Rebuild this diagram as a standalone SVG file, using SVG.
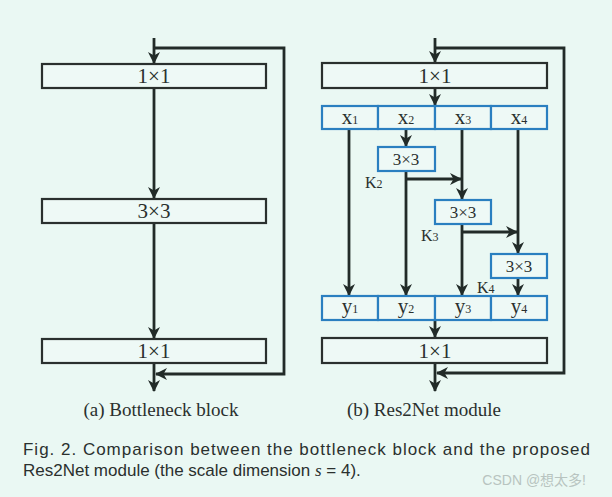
<svg xmlns="http://www.w3.org/2000/svg" width="612" height="497" viewBox="0 0 612 497">
<defs>
<marker id="a" viewBox="0 0 12 12" refX="11" refY="6" markerWidth="12" markerHeight="12" orient="auto" markerUnits="userSpaceOnUse"><path d="M0,0 L12,6 L0,12 L3.5,6 z" fill="#222b28"/></marker>
</defs>
<style>
.bk{fill:#eef9f6;stroke:#2a302e;stroke-width:2.2}
.bl{fill:#eef9f6;stroke:#2a7fc0;stroke-width:2.2}
.t{font-family:"Liberation Serif",serif;font-size:21px;fill:#2a302e;text-anchor:middle}
.s{font-family:"Liberation Serif",serif;font-size:17px;fill:#2a302e;text-anchor:middle}
.sub{font-size:12px}
.k{font-family:"Liberation Serif",serif;font-size:16px;fill:#2a302e}
.c{fill:none;stroke:#222b28;stroke-width:2.8}
.cap{font-family:"Liberation Serif",serif;font-size:19px;fill:#2a302e;text-anchor:middle}
.fig{font-family:"Liberation Sans",sans-serif;font-size:17px;fill:#2a302e}
</style>
<rect width="612" height="497" fill="#eaf8f3"/>
<g id="connectors">
<line class="c" x1="154" y1="38" x2="154" y2="63" marker-end="url(#a)"/>
<polyline class="c" stroke-width="2.2" points="154,48 284,48 284,374 156,374" marker-end="url(#a)"/>
<line class="c" x1="154" y1="88" x2="154" y2="198" marker-end="url(#a)"/>
<line class="c" x1="154" y1="223" x2="154" y2="338" marker-end="url(#a)"/>
<line class="c" x1="154" y1="363" x2="154" y2="391" marker-end="url(#a)"/>
<line class="c" x1="435" y1="38" x2="435" y2="62" marker-end="url(#a)"/>
<polyline class="c" stroke-width="2.2" points="435,48 564,48 564,373 437,373" marker-end="url(#a)"/>
<line class="c" x1="435" y1="88" x2="435" y2="105" marker-end="url(#a)"/>
<line class="c" x1="349" y1="130" x2="349" y2="295" marker-end="url(#a)"/>
<line class="c" x1="406" y1="130" x2="406" y2="146" marker-end="url(#a)"/>
<line class="c" x1="406" y1="171" x2="406" y2="295" marker-end="url(#a)"/>
<line class="c" x1="406" y1="179" x2="461" y2="179" marker-end="url(#a)"/>
<line class="c" x1="462" y1="130" x2="462" y2="199" marker-end="url(#a)"/>
<line class="c" x1="462" y1="224" x2="462" y2="295" marker-end="url(#a)"/>
<line class="c" x1="462" y1="232" x2="517" y2="232" marker-end="url(#a)"/>
<line class="c" x1="518" y1="130" x2="518" y2="253" marker-end="url(#a)"/>
<line class="c" x1="518" y1="278" x2="518" y2="295" marker-end="url(#a)"/>
<line class="c" x1="435" y1="320" x2="435" y2="337" marker-end="url(#a)"/>
<line class="c" x1="435" y1="363" x2="435" y2="391" marker-end="url(#a)"/>
</g>
<g id="a-conv1"><rect class="bk" x="42" y="64" width="224" height="24"/><text class="t" x="154" y="83">1×1</text></g>
<g id="a-conv3"><rect class="bk" x="42" y="199" width="224" height="24"/><text class="t" x="154" y="218">3×3</text></g>
<g id="a-conv1b"><rect class="bk" x="42" y="339" width="224" height="24"/><text class="t" x="154" y="358">1×1</text></g>
<g id="b-conv1"><rect class="bk" x="322" y="63" width="225" height="25"/><text class="t" x="435" y="83">1×1</text></g>
<g id="b-x">
<rect class="bl" x="322" y="106" width="56" height="23"/><rect class="bl" x="378" y="106" width="57" height="23"/><rect class="bl" x="435" y="106" width="56" height="23"/><rect class="bl" x="491" y="106" width="56" height="23"/>
<text class="t" x="350" y="124">x<tspan class="sub">1</tspan></text>
<text class="t" x="406" y="124">x<tspan class="sub">2</tspan></text>
<text class="t" x="463" y="124">x<tspan class="sub">3</tspan></text>
<text class="t" x="519" y="124">x<tspan class="sub">4</tspan></text>
</g>
<g id="k2"><rect class="bl" x="378" y="147" width="57" height="24"/><text class="s" x="406" y="165">3×3</text><text class="k" x="365" y="188">K<tspan class="sub">2</tspan></text></g>
<g id="k3"><rect class="bl" x="435" y="200" width="56" height="24"/><text class="s" x="463" y="218">3×3</text><text class="k" x="421" y="241">K<tspan class="sub">3</tspan></text></g>
<g id="k4"><rect class="bl" x="491" y="254" width="56" height="24"/><text class="s" x="519" y="272">3×3</text><text class="k" x="477" y="293">K<tspan class="sub">4</tspan></text></g>
<g id="b-y">
<rect class="bl" x="322" y="296" width="56" height="24"/><rect class="bl" x="378" y="296" width="57" height="24"/><rect class="bl" x="435" y="296" width="56" height="24"/><rect class="bl" x="491" y="296" width="56" height="24"/>
<text class="t" x="350" y="313">y<tspan class="sub">1</tspan></text>
<text class="t" x="406" y="313">y<tspan class="sub">2</tspan></text>
<text class="t" x="463" y="313">y<tspan class="sub">3</tspan></text>
<text class="t" x="519" y="313">y<tspan class="sub">4</tspan></text>
</g>
<g id="b-conv1b"><rect class="bk" x="322" y="338" width="225" height="25"/><text class="t" x="435" y="358">1×1</text></g>
<text class="cap" x="161" y="416">(a) Bottleneck block</text>
<text class="cap" x="424" y="416">(b) Res2Net module</text>
<text class="fig" x="23" y="455" textLength="567" lengthAdjust="spacing">Fig. 2. Comparison between the bottleneck block and the proposed</text>
<text class="fig" x="23" y="476">Res2Net module (the scale dimension <tspan font-family="Liberation Serif" font-style="italic">s</tspan> = 4).</text>
<text x="586" y="485" font-family="Liberation Sans,Noto Sans CJK SC,sans-serif" font-size="14" fill="#b8c4c0" text-anchor="end">CSDN @想太多!</text>
</svg>
